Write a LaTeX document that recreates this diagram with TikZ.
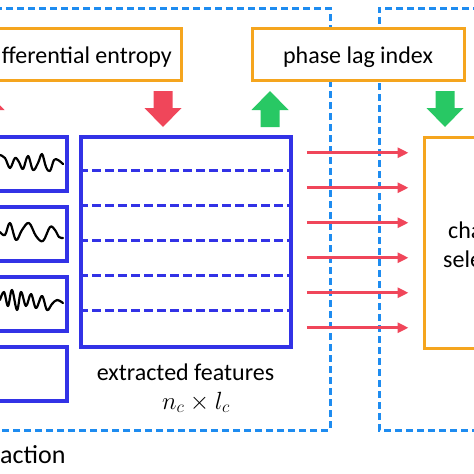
\documentclass[tikz,border=0pt]{standalone}
\usepackage{fontspec}
\setmainfont{Carlito}
\usetikzlibrary{arrows.meta,calc}
\definecolor{regblue}{RGB}{30,140,240}
\definecolor{boxblue}{RGB}{50,50,230}
\definecolor{boxorange}{RGB}{245,165,30}
\definecolor{arrred}{RGB}{240,70,90}
\definecolor{arrgreen}{RGB}{40,200,100}
\newcommand\blockup[3]{\fill[#3] (#1-9.5,#2+17) -- (#1-9.5,#2) -- (#1-18.5,#2) -- (#1,#2-19) -- (#1+18.5,#2) -- (#1+9.5,#2) -- (#1+9.5,#2+17) -- cycle;}
\newcommand\blockdown[3]{\fill[#3] (#1-9.5,#2-17) -- (#1-9.5,#2) -- (#1-18.5,#2) -- (#1,#2+19) -- (#1+18.5,#2) -- (#1+9.5,#2) -- (#1+9.5,#2-17) -- cycle;}
\begin{document}
\begin{tikzpicture}[x=1pt,y=-1pt,font=\fontsize{24}{28}\selectfont,
  region/.style={regblue,line width=3pt,dash pattern=on 7pt off 4pt},
  obox/.style={draw=boxorange,fill=white,line width=3pt,rectangle,inner sep=0pt},
  bbox/.style={draw=boxblue,fill=white,line width=3.5pt,rectangle,inner sep=0pt},
  rowline/.style={boxblue,line width=2.5pt,dash pattern=on 9pt off 4pt},
  wave/.style={black,line width=2.2pt,line cap=round,line join=round},
  harrow/.style={arrred,line width=3pt,-{Triangle[length=11pt,width=10pt]}},
  lbl/.style={inner sep=0pt,anchor=base}]
\useasboundingbox (0,0) rectangle (474,474);
\clip (0,0) rectangle (474,474);
% regions
\draw[region] (-5,8) -- (330,8) -- (330,430) -- (-5,430);
\draw[region] (480,8) -- (379,8) -- (379,430) -- (480,430);
% boxes
\node[obox,minimum width=241pt,minimum height=52pt] (de) at (60.5,54) {};
\node[obox,minimum width=212pt,minimum height=52pt] (pli) at (358,54) {};
\node[obox,minimum width=106pt,minimum height=211pt] (ch) at (477,242.5) {};
\node[bbox,minimum width=210pt,minimum height=210pt] (fm) at (186,242) {};
\node[bbox,minimum width=97pt,minimum height=54pt] (s1) at (18.5,164) {};
\node[bbox,minimum width=97pt,minimum height=54pt] (s2) at (18.5,234) {};
\node[bbox,minimum width=97pt,minimum height=54pt] (s3) at (18.5,304) {};
\node[bbox,minimum width=97pt,minimum height=54pt] (s4) at (18.5,374) {};
% row lines
\foreach \i in {1,...,5}
  \draw[rowline] ($(fm.north west)+(0,35*\i)$) -- ($(fm.north east)+(0,35*\i)$);
% horizontal arrows
\foreach \i in {0,...,5}
  \draw[harrow] ($(fm.north east)+(14,17.5+35*\i)$) -- ($(ch.west |- {$(fm.north east)+(0,17.5+35*\i)$})+(-14,0)$);
% waves
\draw[wave] plot[smooth,tension=0.6] coordinates {(0,155) (5,158) (10,168) (15,158) (19,162) (23,169) (28,156) (33,170) (38,163) (42,154) (46,167) (50,171) (54,160) (58,160) (63,164)};
\draw[wave] plot[smooth,tension=0.6] coordinates {(0,232) (5,235) (10,223) (16,240) (22,230) (29,223) (36,236) (43,241) (50,227) (55,230) (59,237) (63,238)};
\draw[wave] plot[smooth,tension=0.6] coordinates {(0,300) (4,292) (8,306) (12,290) (17,310) (21,292) (26,306) (31,294) (36,308) (42,296) (47,310) (52,304) (57,300) (63,303)};
% block arrows
\blockup{-14}{110}{arrred}
\blockdown{163}{108}{arrred}
\blockup{270}{110}{arrgreen}
\blockdown{445}{108}{arrgreen}
% texts
\node[lbl,anchor=base east] (detxt) at (172,63) {fferential entropy};
\node[lbl] (plitxt) at (358,63) {phase lag index};
\node[lbl] (eftxt) at (185.5,380) {extracted features};
\node[lbl] (dimtxt) at (196,409) {\fontsize{25}{30}\selectfont$n_c\times l_c$};
\node[lbl,anchor=base west] (chtxt1) at (448,238) {cha};
\node[lbl,anchor=base west] (chtxt2) at (443,267) {sele};
\node[lbl,anchor=base west,font=\fontsize{26}{30}\selectfont] (acttxt) at (0,463) {action};
\end{tikzpicture}
\end{document}
